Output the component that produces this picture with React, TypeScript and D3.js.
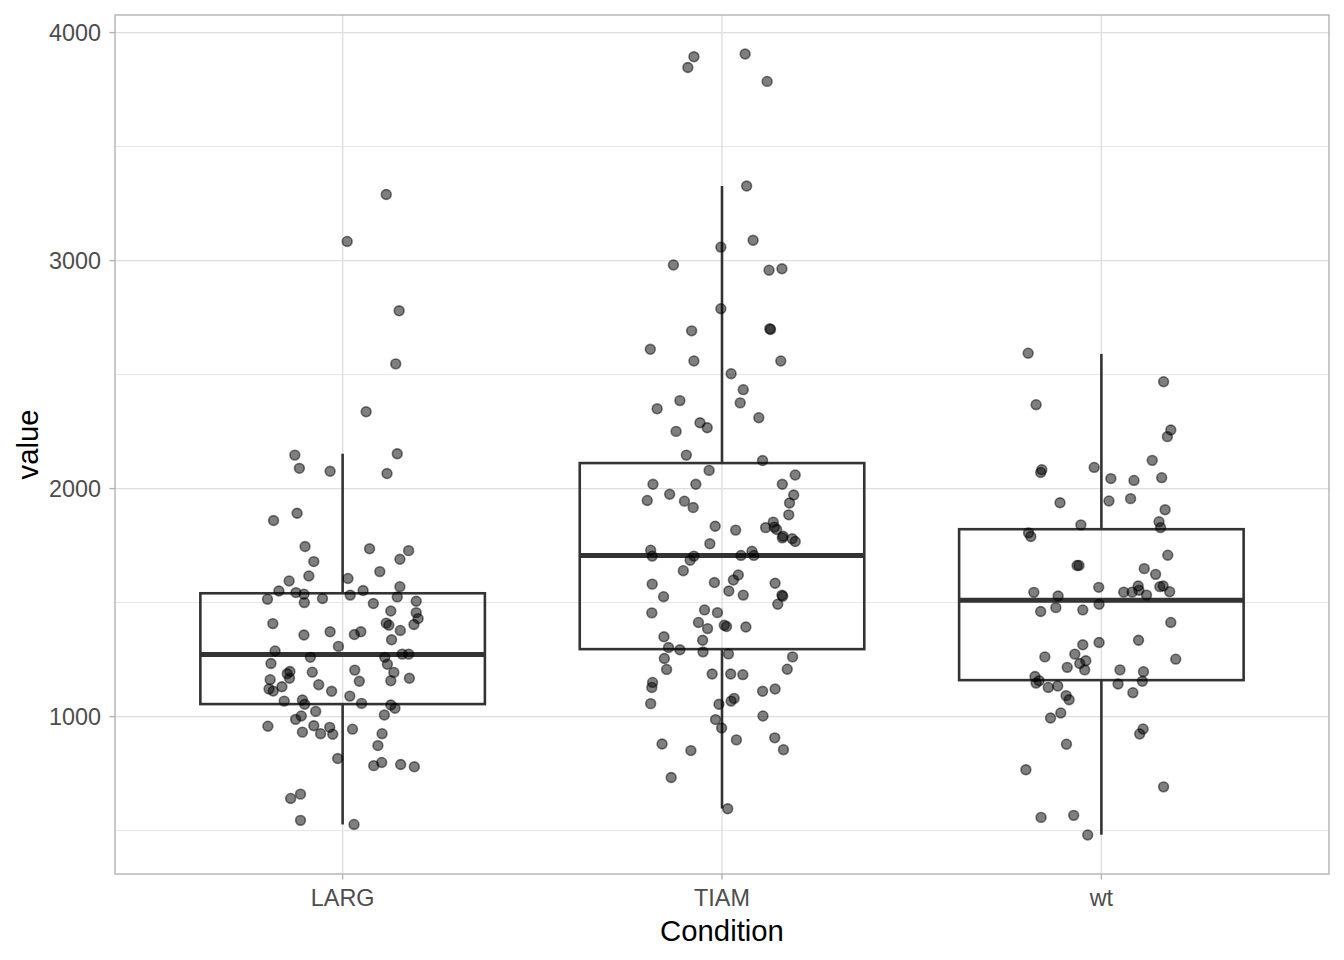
import React, { useRef, useEffect } from 'react';
import * as d3 from 'd3';

// categories on the x axis
const categories = ['LARG', 'TIAM', 'wt'];

const largValues = [
  3290, 3084, 2780, 2547, 2337, 2147, 2153, 2089, 2076, 2066, 1892, 1860, 1746, 1736, 1728, 1680,
  1690, 1617, 1636, 1595, 1606, 1551, 1544, 1537, 1515, 1518, 1533, 1553, 1570, 1525, 1506, 1500,
  1496, 1463, 1456, 1430, 1404, 1410, 1401, 1408, 1378, 1358, 1372, 1360, 1372, 1337, 1308, 1288,
  1260, 1260, 1274, 1274, 1233, 1230, 1198, 1188, 1168, 1195, 1204, 1194, 1162, 1155, 1157, 1168,
  1121, 1112, 1131, 1140, 1111, 1090, 1068, 1073, 1054, 1058, 1051, 1037, 1023, 1003, 988, 1007,
  958, 960, 953, 945, 932, 925, 923, 925, 873, 816, 799, 785, 790, 780, 641, 660, 545, 527,
];
// horizontal jitter, in category-step units
const largJitter = [
  0.115, 0.012, 0.149, 0.14, 0.062, -0.126, 0.144, -0.114, -0.033, 0.117, -0.12, -0.182, -0.099, 0.071, 0.174, -0.076,
  0.151, -0.089, 0.098, -0.141, 0.014, -0.168, -0.123, -0.102, -0.198, -0.053, 0.02, 0.054, 0.151, 0.144, 0.194, -0.101,
  0.081, 0.127, 0.194, 0.199, 0.188, 0.115, 0.122, -0.184, 0.152, -0.102, -0.033, 0.031, 0.048, 0.129, -0.011, -0.178,
  -0.085, 0.111, 0.157, 0.174, -0.189, 0.118, -0.139, -0.146, -0.14, -0.08, 0.032, 0.135, -0.191, 0.044, 0.127, 0.176,
  -0.194, -0.183, -0.16, -0.063, -0.029, 0.019, -0.154, -0.106, -0.1, 0.05, 0.127, 0.138, -0.071, -0.109, -0.124, 0.11,
  -0.197, -0.076, -0.034, 0.026, -0.106, -0.058, -0.026, 0.104, 0.093, -0.013, 0.103, 0.082, 0.153, 0.189, -0.137, -0.111, -0.111, 0.03,
];

const tiamValues = [
  3894, 3847, 3906, 3786, 3327, 3089, 3059, 2981, 2958, 2964, 2789, 2692, 2701, 2698, 2611, 2560,
  2560, 2504, 2434, 2376, 2386, 2350, 2311, 2289, 2267, 2251, 2147, 2123, 2080, 2060, 2019, 2019,
  2019, 1975, 1972, 1948, 1945, 1917, 1937, 1885, 1835, 1818, 1853, 1829, 1831, 1821, 1791, 1780,
  1768, 1784, 1758, 1730, 1704, 1704, 1686, 1707, 1725, 1707, 1640, 1621, 1599, 1581, 1588, 1585,
  1551, 1533, 1533, 1528, 1526, 1493, 1455, 1468, 1456, 1413, 1386, 1401, 1395, 1393, 1350, 1335,
  1303, 1293, 1284, 1275, 1255, 1262, 1207, 1208, 1187, 1187, 1184, 1150, 1128, 1111, 1121, 1080,
  1068, 1054, 1057, 1003, 987, 950, 880, 851, 898, 907, 855, 733, 596,
];
const tiamJitter = [
  -0.074, -0.09, 0.061, 0.119, 0.065, 0.082, -0.003, -0.128, 0.124, 0.158, -0.003, -0.08, 0.126, 0.128, -0.189, -0.074,
  0.155, 0.024, 0.056, 0.048, -0.111, -0.171, 0.097, -0.058, -0.039, -0.121, -0.094, 0.107, -0.034, 0.193, -0.182, -0.069,
  0.159, -0.138, 0.189, -0.197, -0.099, -0.076, 0.178, 0.176, -0.018, 0.036, 0.135, 0.115, 0.138, 0.144, 0.161, 0.185,
  0.193, 0.159, -0.032, -0.188, -0.184, -0.074, -0.084, 0.05, 0.079, 0.084, -0.102, 0.043, 0.03, -0.184, -0.02, 0.14,
  0.018, 0.056, 0.158, 0.16, -0.154, 0.147, -0.185, -0.046, -0.012, -0.062, -0.038, 0.006, 0.012, 0.063, -0.153, -0.051,
  -0.141, -0.111, -0.05, 0.017, -0.152, 0.186, -0.146, 0.172, -0.026, 0.023, 0.055, -0.183, -0.185, 0.107, 0.14, 0.032,
  0.024, -0.008, -0.188, 0.108, -0.017, -0.001, -0.158, -0.082, 0.038, 0.139, 0.162, -0.134, 0.015,
];

const wtValues = [
  2594, 2469, 2368, 2257, 2228, 2124, 2093, 2083, 2071, 2044, 2036, 2048, 1938, 1946, 1956, 1907,
  1855, 1829, 1841, 1806, 1790, 1708, 1663, 1663, 1649, 1624, 1570, 1573, 1548, 1545, 1529, 1567,
  1546, 1546, 1573, 1554, 1533, 1461, 1478, 1468, 1493, 1413, 1335, 1325, 1315, 1262, 1274, 1245,
  1233, 1252, 1216, 1205, 1205, 1197, 1176, 1147, 1157, 1128, 1134, 1143, 1155, 1105, 1092, 1074,
  1016, 994, 946, 924, 879, 767, 692, 558, 567, 481,
];
const wtJitter = [
  -0.193, 0.164, -0.172, 0.183, 0.174, 0.134, -0.019, -0.157, -0.16, 0.025, 0.086, 0.159, -0.109, 0.02, 0.077, 0.168,
  0.152, 0.156, -0.054, -0.192, -0.186, 0.175, -0.064, -0.059, 0.113, 0.143, 0.154, 0.163, 0.18, -0.178, -0.114, -0.007,
  0.059, 0.081, 0.097, 0.099, 0.119, -0.16, -0.12, -0.049, -0.006, 0.183, 0.098, -0.006, -0.049, -0.149, -0.07, -0.041,
  -0.057, 0.196, -0.09, -0.044, 0.049, 0.111, -0.175, -0.172, -0.164, -0.14, -0.115, 0.044, 0.108, 0.083, -0.093, -0.085,
  -0.107, -0.134, 0.11, 0.101, -0.092, -0.199, 0.164, -0.159, -0.073, -0.036,
];

// box statistics per category, same order as categories
const whiskerLow = [527, 597, 482];
const q1 = [1055, 1296, 1160];
const median = [1273, 1707, 1510];
const q3 = [1541, 2112, 1822];
const whiskerHigh = [2153, 3327, 2591];

const yTicks = [1000, 2000, 3000, 4000];
const yMinorTicks = [500, 1500, 2500, 3500];

const groupValues = [largValues, tiamValues, wtValues];
const groupJitter = [largJitter, tiamJitter, wtJitter];

const FONT = '"Liberation Sans", Arial, Helvetica, sans-serif';

const App: React.FC = () => {
  const svgRef = useRef<SVGSVGElement>(null);
  const width = 1344;
  const height = 960;

  useEffect(() => {
    document.body.style.margin = '0';
    if (!svgRef.current) return;
    const svg = d3.select(svgRef.current);
    svg.selectAll('*').remove();

    const panel = { left: 115, right: 1329, top: 15, bottom: 874 };

    const points = categories.flatMap((cat, i) =>
      groupValues[i].map((v, j) => ({ cat, value: v, jitter: groupJitter[i][j] }))
    );

    const [minV, maxV] = d3.extent(points, d => d.value) as [number, number];
    const pad = (maxV - minV) * 0.05;

    const x = d3.scalePoint<string>()
      .domain(categories)
      .range([panel.left, panel.right])
      .padding(0.6);
    const step = x.step();

    const y = d3.scaleLinear()
      .domain([minV - pad, maxV + pad])
      .range([panel.bottom, panel.top]);

    const pw = panel.right - panel.left;

    // minor grid
    svg.append('g')
      .selectAll('line')
      .data(yMinorTicks)
      .enter()
      .append('line')
      .attr('x1', panel.left).attr('x2', panel.right)
      .attr('y1', d => y(d)).attr('y2', d => y(d))
      .attr('stroke', '#DEDEDE')
      .attr('stroke-width', 0.8);

    // major grid
    svg.append('g')
      .selectAll('line')
      .data(yTicks)
      .enter()
      .append('line')
      .attr('x1', panel.left).attr('x2', panel.right)
      .attr('y1', d => y(d)).attr('y2', d => y(d))
      .attr('stroke', '#DEDEDE')
      .attr('stroke-width', 1.4);

    svg.append('g')
      .selectAll('line')
      .data(categories)
      .enter()
      .append('line')
      .attr('x1', d => x(d)!).attr('x2', d => x(d)!)
      .attr('y1', panel.top).attr('y2', panel.bottom)
      .attr('stroke', '#DEDEDE')
      .attr('stroke-width', 1.4);

    // boxplots (unfilled, grid shows through)
    const boxColor = '#333333';
    const bw = step * 0.75;
    const boxes = svg.append('g');
    categories.forEach((cat, i) => {
      const cx = x(cat)!;
      boxes.append('line')
        .attr('x1', cx).attr('x2', cx)
        .attr('y1', y(q3[i])).attr('y2', y(whiskerHigh[i]))
        .attr('stroke', boxColor).attr('stroke-width', 2.6);
      boxes.append('line')
        .attr('x1', cx).attr('x2', cx)
        .attr('y1', y(q1[i])).attr('y2', y(whiskerLow[i]))
        .attr('stroke', boxColor).attr('stroke-width', 2.6);
      boxes.append('rect')
        .attr('x', cx - bw / 2)
        .attr('y', y(q3[i]))
        .attr('width', bw)
        .attr('height', y(q1[i]) - y(q3[i]))
        .attr('fill', 'none')
        .attr('stroke', boxColor)
        .attr('stroke-width', 2.6);
      boxes.append('line')
        .attr('x1', cx - bw / 2).attr('x2', cx + bw / 2)
        .attr('y1', y(median[i])).attr('y2', y(median[i]))
        .attr('stroke', boxColor).attr('stroke-width', 5);
    });

    // jittered points
    svg.append('g')
      .selectAll('circle')
      .data(points)
      .enter()
      .append('circle')
      .attr('cx', d => x(d.cat)! + d.jitter * step)
      .attr('cy', d => y(d.value))
      .attr('r', 4.9)
      .attr('fill', 'rgba(0,0,0,0.5)')
      .attr('stroke', 'rgba(0,0,0,0.5)')
      .attr('stroke-width', 1.6);

    // panel border
    svg.append('rect')
      .attr('x', panel.left)
      .attr('y', panel.top)
      .attr('width', pw)
      .attr('height', panel.bottom - panel.top)
      .attr('fill', 'none')
      .attr('stroke', '#B3B3B3')
      .attr('stroke-width', 1.4);

    // y axis ticks + labels
    const yAxis = svg.append('g');
    yAxis.selectAll('line')
      .data(yTicks)
      .enter()
      .append('line')
      .attr('x1', panel.left - 5.5).attr('x2', panel.left)
      .attr('y1', d => y(d)).attr('y2', d => y(d))
      .attr('stroke', '#B3B3B3')
      .attr('stroke-width', 1.4);
    yAxis.selectAll('text')
      .data(yTicks)
      .enter()
      .append('text')
      .attr('x', panel.left - 14)
      .attr('y', d => y(d))
      .attr('dy', '0.35em')
      .attr('text-anchor', 'end')
      .attr('font-family', FONT)
      .attr('font-size', '23.4px')
      .attr('fill', '#4D4D4D')
      .text(d => String(d));

    // x axis ticks + labels
    const xAxis = svg.append('g');
    xAxis.selectAll('line')
      .data(categories)
      .enter()
      .append('line')
      .attr('x1', d => x(d)!).attr('x2', d => x(d)!)
      .attr('y1', panel.bottom).attr('y2', panel.bottom + 5.5)
      .attr('stroke', '#B3B3B3')
      .attr('stroke-width', 1.4);
    xAxis.selectAll('text')
      .data(categories)
      .enter()
      .append('text')
      .attr('x', d => x(d)!)
      .attr('y', panel.bottom + 32)
      .attr('text-anchor', 'middle')
      .attr('font-family', FONT)
      .attr('font-size', '23.4px')
      .attr('fill', '#4D4D4D')
      .text(d => d);

    // axis titles
    svg.append('text')
      .attr('x', (panel.left + panel.right) / 2)
      .attr('y', 941)
      .attr('text-anchor', 'middle')
      .attr('font-family', FONT)
      .attr('font-size', '29.3px')
      .attr('fill', '#000')
      .text('Condition');

    svg.append('text')
      .attr('transform', `translate(38,${(panel.top + panel.bottom) / 2}) rotate(-90)`)
      .attr('text-anchor', 'middle')
      .attr('font-family', FONT)
      .attr('font-size', '29.3px')
      .attr('fill', '#000')
      .text('value');
  }, []);

  return <svg ref={svgRef} width={width} height={height} style={{ display: 'block', background: '#fff' }} />;
};

export default App;
